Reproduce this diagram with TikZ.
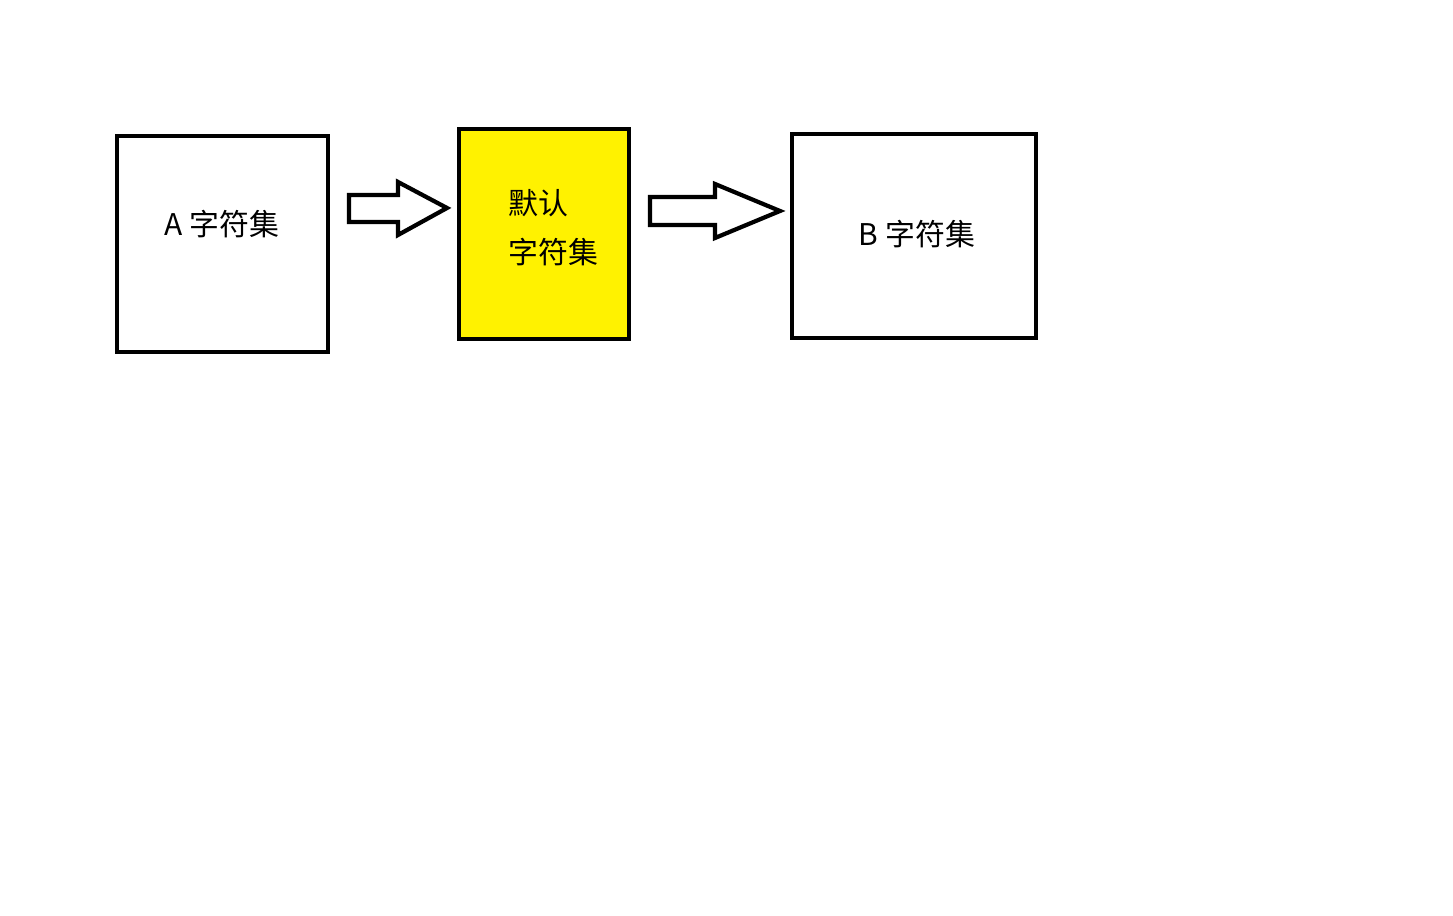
\documentclass[tikz,border=0pt]{standalone}
\usepackage{fontspec}
\setmainfont{Noto Sans CJK SC}
\usetikzlibrary{positioning}
\tikzset{
  setbox/.style={draw, line width=1.2pt, rectangle, inner sep=0pt},
  bigarrow/.style={draw, line width=1.2pt, fill=white, line join=miter}
}
\begin{document}
\begin{tikzpicture}[x=0.01cm, y=-0.01cm, font=\fontsize{8.5}{10}\selectfont]
	\useasboundingbox (0,0) rectangle (1453,916);
	\node[setbox, minimum width=2.11cm, minimum height=2.16cm] (setA) at (222.5,244) {};
	\node[setbox, fill={rgb,255:red,255;green,242;blue,0}, minimum width=1.70cm, minimum height=2.10cm] (setDef) at (544,234) {};
	\node[setbox, minimum width=2.44cm, minimum height=2.04cm] (setB) at (914,236) {};
	\node (labA) at (222,224) {A 字符集};
	\node[anchor=west] (labDef1) at (496,203) {默认};
	\node[anchor=west] (labDef2) at (496,252) {字符集};
	\node (labB) at (917,234) {B 字符集};
	% block arrows
	\draw[bigarrow] (349,195) -- (398,195) -- (398,182) -- (447,208) -- (398,235) -- (398,222) -- (349,222) -- cycle;
	\draw[bigarrow] (650,197) -- (715,197) -- (715,184) -- (780,211) -- (715,238) -- (715,225) -- (650,225) -- cycle;
\end{tikzpicture}
\end{document}
